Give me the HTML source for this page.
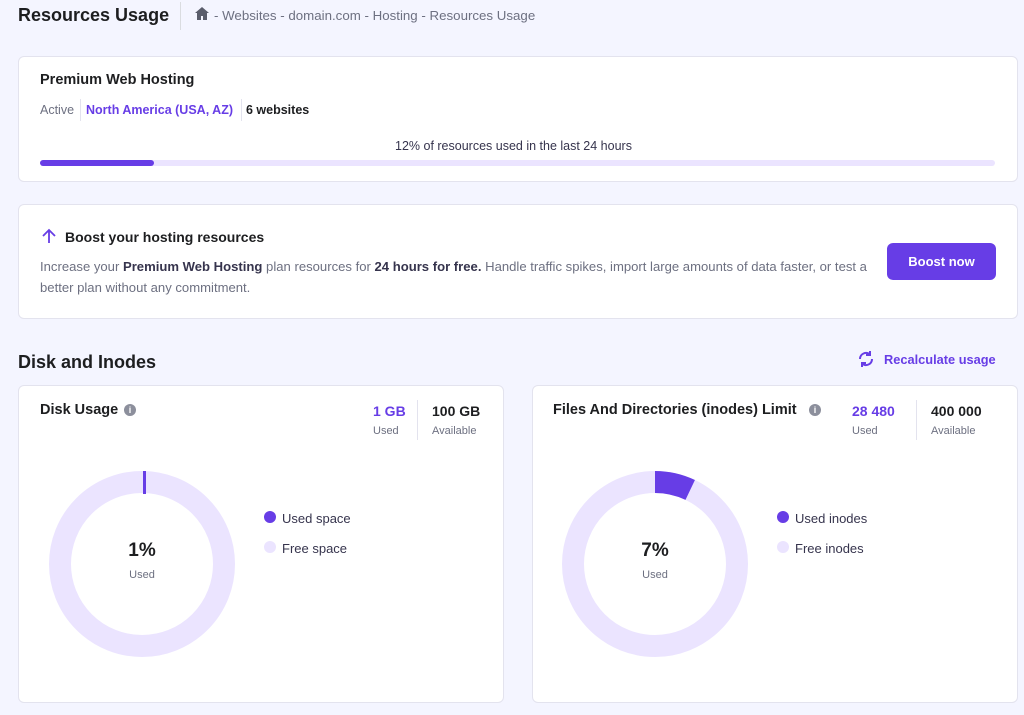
<!DOCTYPE html><html><head><style>
*{box-sizing:border-box;margin:0;padding:0}
body{width:1024px;height:715px;background:#f4f5ff;font-family:"Liberation Sans",sans-serif;color:#2f1c6a;position:relative;overflow:hidden}
.a{position:absolute;white-space:nowrap}
.card{position:absolute;background:#fff;border:1px solid #e3e3ee;border-radius:6px}
.p{color:#673de6}
.g{color:#6d7081}
.b{font-weight:bold;color:#1d1e20}
</style></head><body>
<div class="a b" style="left:18px;top:5px;font-size:18px">Resources Usage</div>
<div class="a" style="left:180px;top:2px;width:1px;height:28px;background:#dadce0"></div>
<svg class="a" style="left:195px;top:7px" width="14" height="13" viewBox="0 0 14 13"><path d="M7 0L0 6h2v7h4V9h2v4h4V6h2z" fill="#5a5d6b"/></svg>
<div class="a g" style="left:214px;top:8px;font-size:13.3px">- Websites - domain.com - Hosting - Resources Usage</div>

<div class="card" style="left:18px;top:56px;width:1000px;height:126px"></div>
<div class="a b" style="left:40px;top:72px;font-size:14.5px">Premium Web Hosting</div>
<div class="a g" style="left:40px;top:103px;font-size:12.5px">Active</div>
<div class="a" style="left:80px;top:99px;width:1px;height:22px;background:#e3e3ee"></div>
<div class="a p" style="left:86px;top:103px;font-size:12.5px;font-weight:bold">North America (USA, AZ)</div>
<div class="a" style="left:241px;top:99px;width:1px;height:22px;background:#e3e3ee"></div>
<div class="a b" style="left:246px;top:103px;font-size:12.5px">6 websites</div>
<div class="a" style="left:395px;top:139px;font-size:12.5px;color:#36344d">12% of resources used in the last 24 hours</div>
<div class="a" style="left:40px;top:160px;width:955px;height:6px;border-radius:3px;background:#ebe4ff"></div>
<div class="a" style="left:40px;top:160px;width:114px;height:6px;border-radius:3px;background:#673de6"></div>

<div class="card" style="left:18px;top:204px;width:1000px;height:115px"></div>
<svg class="a" style="left:42px;top:228px" width="14" height="16" viewBox="0 0 14 16"><path d="M7 15V2M1 8l6-6 6 6" stroke="#673de6" stroke-width="1.8" fill="none"/></svg>
<div class="a b" style="left:65px;top:229px;font-size:14px">Boost your hosting resources</div>
<div class="a g" style="left:40px;top:259px;font-size:13.1px">Increase your <b style="color:#36344d">Premium Web Hosting</b> plan resources for <b style="color:#36344d">24 hours for free.</b> Handle traffic spikes, import large amounts of data faster, or test a</div>
<div class="a g" style="left:40px;top:280px;font-size:13.1px">better plan without any commitment.</div>
<div class="a" style="left:887px;top:243px;width:109px;height:37px;border-radius:6px;background:#673de6;color:#fff;font-weight:bold;font-size:13px;text-align:center;line-height:37px">Boost now</div>

<div class="a b" style="left:18px;top:352px;font-size:18px">Disk and Inodes</div>
<svg class="a" style="left:857px;top:350px" width="18" height="18" viewBox="0 0 18 18"><path d="M3 9a6 6 0 0 1 10-4.5M15 9a6 6 0 0 1-10 4.5" stroke="#673de6" stroke-width="2" fill="none"/><path d="M13 1v4h-4M5 17v-4h4" stroke="#673de6" stroke-width="2" fill="none"/></svg>
<div class="a p" style="left:884px;top:352px;font-size:12.8px;font-weight:bold">Recalculate usage</div>

<div class="card" style="left:18px;top:385px;width:486px;height:318px"></div>
<div class="card" style="left:532px;top:385px;width:486px;height:318px"></div>

<div class="a b" style="left:40px;top:402px;font-size:14.5px">Disk Usage</div>
<div class="a" style="left:124px;top:404px;width:12px;height:12px;border-radius:50%;background:#8c8f9c;color:#fff;font-size:9px;text-align:center;line-height:12px;font-weight:bold">i</div>
<div class="a p" style="left:373px;top:403px;font-size:14px;font-weight:bold">1 GB</div>
<div class="a g" style="left:373px;top:425px;font-size:11px">Used</div>
<div class="a" style="left:417px;top:400px;width:1px;height:40px;background:#e3e3ee"></div>
<div class="a b" style="left:432px;top:403px;font-size:14px">100 GB</div>
<div class="a g" style="left:432px;top:425px;font-size:11px">Available</div>
<svg class="a" style="left:42px;top:464px" width="200" height="200"><circle cx="100" cy="100" r="82" stroke="#ebe4ff" stroke-width="22" fill="none"/><rect x="101" y="7" width="3" height="23" fill="#673de6"/></svg>
<div class="a b" style="left:0;width:284px;text-align:center;top:540px;font-size:19px">1%</div>
<div class="a g" style="left:0;width:284px;text-align:center;top:569px;font-size:11px">Used</div>
<div class="a" style="left:264px;top:511px;width:12px;height:12px;border-radius:50%;background:#673de6"></div>
<div class="a" style="left:282px;top:511px;font-size:13px;color:#36344d">Used space</div>
<div class="a" style="left:264px;top:541px;width:12px;height:12px;border-radius:50%;background:#ebe4ff"></div>
<div class="a" style="left:282px;top:541px;font-size:13px;color:#36344d">Free space</div>

<div class="a b" style="left:553px;top:402px;font-size:14.5px">Files And Directories (inodes) Limit</div>
<div class="a" style="left:809px;top:404px;width:12px;height:12px;border-radius:50%;background:#8c8f9c;color:#fff;font-size:9px;text-align:center;line-height:12px;font-weight:bold">i</div>
<div class="a p" style="left:852px;top:403px;font-size:14px;font-weight:bold">28 480</div>
<div class="a g" style="left:852px;top:425px;font-size:11px">Used</div>
<div class="a" style="left:916px;top:400px;width:1px;height:40px;background:#e3e3ee"></div>
<div class="a b" style="left:931px;top:403px;font-size:14px">400 000</div>
<div class="a g" style="left:931px;top:425px;font-size:11px">Available</div>
<svg class="a" style="left:555px;top:464px" width="200" height="200"><circle cx="100" cy="100" r="82" stroke="#ebe4ff" stroke-width="22" fill="none"/><circle cx="100" cy="100" r="82" stroke="#673de6" stroke-width="22" fill="none" stroke-dasharray="36.4 600" transform="rotate(-90 100 100)"/></svg>
<div class="a b" style="left:513px;width:284px;text-align:center;top:540px;font-size:19px">7%</div>
<div class="a g" style="left:513px;width:284px;text-align:center;top:569px;font-size:11px">Used</div>
<div class="a" style="left:777px;top:511px;width:12px;height:12px;border-radius:50%;background:#673de6"></div>
<div class="a" style="left:795px;top:511px;font-size:13px;color:#36344d">Used inodes</div>
<div class="a" style="left:777px;top:541px;width:12px;height:12px;border-radius:50%;background:#ebe4ff"></div>
<div class="a" style="left:795px;top:541px;font-size:13px;color:#36344d">Free inodes</div>
</body></html>
